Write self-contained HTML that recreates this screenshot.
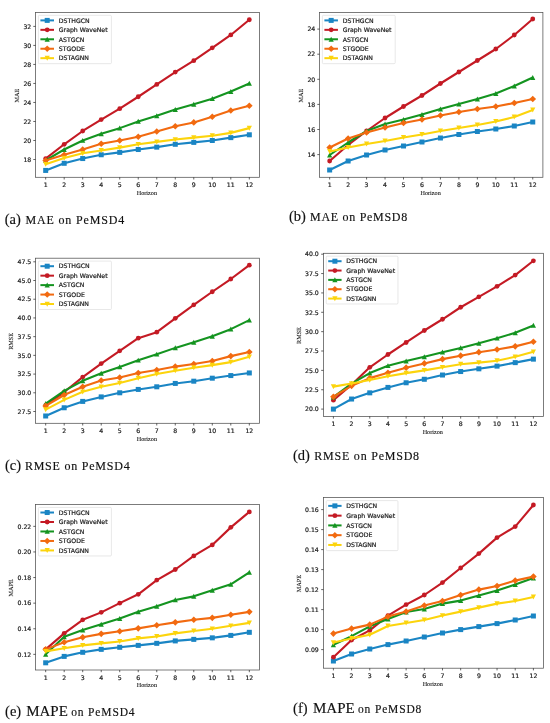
<!DOCTYPE html>
<html lang="en">
<head>
<meta charset="utf-8">
<title>Prediction error by horizon on PeMSD4 and PeMSD8</title>
<style>
html,body{margin:0;padding:0;background:#fff;}
body{width:550px;height:723px;overflow:hidden;}
svg{display:block;filter:blur(.35px);}
.ln{fill:none;stroke-width:2.1;stroke-linejoin:round;stroke-linecap:butt;}
.fr{fill:none;stroke:#505050;stroke-width:0.75;}
.tk{fill:none;stroke:#222;stroke-width:0.7;}
.tl,.lt{font-family:"DejaVu Sans","Liberation Sans",sans-serif;font-size:6.2px;fill:#1a1a1a;stroke:#1a1a1a;stroke-width:.2px;}
.al{text-rendering:geometricPrecision;font-family:"Liberation Serif",serif;font-size:6.2px;fill:#1a1a1a;stroke:#1a1a1a;stroke-width:.12px;}
.lg{fill:#fff;fill-opacity:.8;stroke:#d8d8d8;stroke-width:0.6;}
.cp{font-family:"Liberation Serif",serif;fill:#111;stroke:#111;stroke-width:.15px;}
.c1{font-size:14.5px;}
.c2{font-size:12px;}
.c3{font-size:11.5px;}
.c4{font-size:15px;}
</style>
</head>
<body>
<svg width="550" height="723" viewBox="0 0 550 723">
<rect width="550" height="723" fill="#fff"/>
<g class="chart" id="chart-a">
<polyline class="ln" stroke="#1a85c4" points="45.68,170.43 64.19,163.3 82.71,158.55 101.22,154.75 119.73,152.37 138.24,149.52 156.76,147.14 175.27,144.29 193.78,142.39 212.29,140.49 230.81,137.63 249.32,134.78"/>
<rect x="43.18" y="167.93" width="5" height="5" fill="#1a85c4"/>
<rect x="61.69" y="160.8" width="5" height="5" fill="#1a85c4"/>
<rect x="80.21" y="156.05" width="5" height="5" fill="#1a85c4"/>
<rect x="98.72" y="152.25" width="5" height="5" fill="#1a85c4"/>
<rect x="117.23" y="149.87" width="5" height="5" fill="#1a85c4"/>
<rect x="135.74" y="147.02" width="5" height="5" fill="#1a85c4"/>
<rect x="154.26" y="144.64" width="5" height="5" fill="#1a85c4"/>
<rect x="172.77" y="141.79" width="5" height="5" fill="#1a85c4"/>
<rect x="191.28" y="139.89" width="5" height="5" fill="#1a85c4"/>
<rect x="209.79" y="137.99" width="5" height="5" fill="#1a85c4"/>
<rect x="228.31" y="135.13" width="5" height="5" fill="#1a85c4"/>
<rect x="246.82" y="132.28" width="5" height="5" fill="#1a85c4"/>
<polyline class="ln" stroke="#c41a24" points="45.68,158.55 64.19,144.29 82.71,130.98 101.22,119.57 119.73,108.64 138.24,96.75 156.76,84.39 175.27,72.04 193.78,60.63 212.29,47.79 230.81,34.96 249.32,19.75"/>
<circle cx="45.68" cy="158.55" r="2.4" fill="#c41a24"/>
<circle cx="64.19" cy="144.29" r="2.4" fill="#c41a24"/>
<circle cx="82.71" cy="130.98" r="2.4" fill="#c41a24"/>
<circle cx="101.22" cy="119.57" r="2.4" fill="#c41a24"/>
<circle cx="119.73" cy="108.64" r="2.4" fill="#c41a24"/>
<circle cx="138.24" cy="96.75" r="2.4" fill="#c41a24"/>
<circle cx="156.76" cy="84.39" r="2.4" fill="#c41a24"/>
<circle cx="175.27" cy="72.04" r="2.4" fill="#c41a24"/>
<circle cx="193.78" cy="60.63" r="2.4" fill="#c41a24"/>
<circle cx="212.29" cy="47.79" r="2.4" fill="#c41a24"/>
<circle cx="230.81" cy="34.96" r="2.4" fill="#c41a24"/>
<circle cx="249.32" cy="19.75" r="2.4" fill="#c41a24"/>
<polyline class="ln" stroke="#149420" points="45.68,160.45 64.19,149.52 82.71,140.49 101.22,133.83 119.73,128.13 138.24,121.47 156.76,115.77 175.27,109.59 193.78,104.36 212.29,98.66 230.81,91.52 249.32,83.44"/>
<path d="M45.68 157.85L48.28 162.83H43.08Z" fill="#149420"/>
<path d="M64.19 146.92L66.79 151.89H61.59Z" fill="#149420"/>
<path d="M82.71 137.89L85.31 142.86H80.11Z" fill="#149420"/>
<path d="M101.22 131.23L103.82 136.21H98.62Z" fill="#149420"/>
<path d="M119.73 125.53L122.33 130.5H117.13Z" fill="#149420"/>
<path d="M138.24 118.87L140.84 123.85H135.64Z" fill="#149420"/>
<path d="M156.76 113.17L159.36 118.14H154.16Z" fill="#149420"/>
<path d="M175.27 106.99L177.87 111.96H172.67Z" fill="#149420"/>
<path d="M193.78 101.76L196.38 106.73H191.18Z" fill="#149420"/>
<path d="M212.29 96.06L214.89 101.03H209.69Z" fill="#149420"/>
<path d="M230.81 88.92L233.41 93.9H228.21Z" fill="#149420"/>
<path d="M249.32 80.84L251.92 85.82H246.72Z" fill="#149420"/>
<polyline class="ln" stroke="#f26a10" points="45.68,160.45 64.19,154.75 82.71,149.52 101.22,143.81 119.73,140.49 138.24,136.68 156.76,131.45 175.27,126.23 193.78,122.42 212.29,116.72 230.81,110.54 249.32,105.79"/>
<path d="M45.68 157.15L48.98 160.45L45.68 163.75L42.38 160.45Z" fill="#f26a10"/>
<path d="M64.19 151.45L67.49 154.75L64.19 158.05L60.89 154.75Z" fill="#f26a10"/>
<path d="M82.71 146.22L86.01 149.52L82.71 152.82L79.41 149.52Z" fill="#f26a10"/>
<path d="M101.22 140.51L104.52 143.81L101.22 147.11L97.92 143.81Z" fill="#f26a10"/>
<path d="M119.73 137.19L123.03 140.49L119.73 143.79L116.43 140.49Z" fill="#f26a10"/>
<path d="M138.24 133.38L141.54 136.68L138.24 139.98L134.94 136.68Z" fill="#f26a10"/>
<path d="M156.76 128.15L160.06 131.45L156.76 134.75L153.46 131.45Z" fill="#f26a10"/>
<path d="M175.27 122.93L178.57 126.23L175.27 129.53L171.97 126.23Z" fill="#f26a10"/>
<path d="M193.78 119.12L197.08 122.42L193.78 125.72L190.48 122.42Z" fill="#f26a10"/>
<path d="M212.29 113.42L215.59 116.72L212.29 120.02L208.99 116.72Z" fill="#f26a10"/>
<path d="M230.81 107.24L234.11 110.54L230.81 113.84L227.51 110.54Z" fill="#f26a10"/>
<path d="M249.32 102.49L252.62 105.79L249.32 109.09L246.02 105.79Z" fill="#f26a10"/>
<polyline class="ln" stroke="#fcd40c" points="45.68,164.25 64.19,158.07 82.71,153.32 101.22,150.47 119.73,147.62 138.24,144.29 156.76,141.91 175.27,139.54 193.78,137.63 212.29,135.73 230.81,132.88 249.32,128.13"/>
<path d="M45.68 166.85L48.28 161.88H43.08Z" fill="#fcd40c"/>
<path d="M64.19 160.67L66.79 155.7H61.59Z" fill="#fcd40c"/>
<path d="M82.71 155.92L85.31 150.95H80.11Z" fill="#fcd40c"/>
<path d="M101.22 153.07L103.82 148.09H98.62Z" fill="#fcd40c"/>
<path d="M119.73 150.22L122.33 145.24H117.13Z" fill="#fcd40c"/>
<path d="M138.24 146.89L140.84 141.91H135.64Z" fill="#fcd40c"/>
<path d="M156.76 144.51L159.36 139.54H154.16Z" fill="#fcd40c"/>
<path d="M175.27 142.14L177.87 137.16H172.67Z" fill="#fcd40c"/>
<path d="M193.78 140.23L196.38 135.26H191.18Z" fill="#fcd40c"/>
<path d="M212.29 138.33L214.89 133.36H209.69Z" fill="#fcd40c"/>
<path d="M230.81 135.48L233.41 130.51H228.21Z" fill="#fcd40c"/>
<path d="M249.32 130.73L251.92 125.75H246.72Z" fill="#fcd40c"/>
<rect class="fr" x="35.5" y="12.4" width="224" height="164.9"/>
<path class="tk" d="M45.68 177.3v2.2"/>
<text class="tl" x="45.68" y="187" text-anchor="middle">1</text>
<path class="tk" d="M64.19 177.3v2.2"/>
<text class="tl" x="64.19" y="187" text-anchor="middle">2</text>
<path class="tk" d="M82.71 177.3v2.2"/>
<text class="tl" x="82.71" y="187" text-anchor="middle">3</text>
<path class="tk" d="M101.22 177.3v2.2"/>
<text class="tl" x="101.22" y="187" text-anchor="middle">4</text>
<path class="tk" d="M119.73 177.3v2.2"/>
<text class="tl" x="119.73" y="187" text-anchor="middle">5</text>
<path class="tk" d="M138.24 177.3v2.2"/>
<text class="tl" x="138.24" y="187" text-anchor="middle">6</text>
<path class="tk" d="M156.76 177.3v2.2"/>
<text class="tl" x="156.76" y="187" text-anchor="middle">7</text>
<path class="tk" d="M175.27 177.3v2.2"/>
<text class="tl" x="175.27" y="187" text-anchor="middle">8</text>
<path class="tk" d="M193.78 177.3v2.2"/>
<text class="tl" x="193.78" y="187" text-anchor="middle">9</text>
<path class="tk" d="M212.29 177.3v2.2"/>
<text class="tl" x="212.29" y="187" text-anchor="middle">10</text>
<path class="tk" d="M230.81 177.3v2.2"/>
<text class="tl" x="230.81" y="187" text-anchor="middle">11</text>
<path class="tk" d="M249.32 177.3v2.2"/>
<text class="tl" x="249.32" y="187" text-anchor="middle">12</text>
<text class="al" x="146.9" y="194.59" text-anchor="middle">Horizon</text>
<path class="tk" d="M35.5 159.5h-2.2"/>
<text class="tl" x="31.3" y="161.75" text-anchor="end">18</text>
<path class="tk" d="M35.5 140.49h-2.2"/>
<text class="tl" x="31.3" y="142.74" text-anchor="end">20</text>
<path class="tk" d="M35.5 121.47h-2.2"/>
<text class="tl" x="31.3" y="123.72" text-anchor="end">22</text>
<path class="tk" d="M35.5 102.46h-2.2"/>
<text class="tl" x="31.3" y="104.71" text-anchor="end">24</text>
<path class="tk" d="M35.5 83.44h-2.2"/>
<text class="tl" x="31.3" y="85.69" text-anchor="end">26</text>
<path class="tk" d="M35.5 64.43h-2.2"/>
<text class="tl" x="31.3" y="66.68" text-anchor="end">28</text>
<path class="tk" d="M35.5 45.42h-2.2"/>
<text class="tl" x="31.3" y="47.67" text-anchor="end">30</text>
<path class="tk" d="M35.5 26.4h-2.2"/>
<text class="tl" x="31.3" y="28.65" text-anchor="end">32</text>
<text class="al" transform="translate(18.5 95.55) rotate(-90)" text-anchor="middle">MAE</text>
<rect class="lg" x="38.4" y="15.3" width="73" height="48.37" rx="1"/>
<path class="ln" style="stroke-width:2" stroke="#1a85c4" d="M40.4 20.4H54"/>
<rect x="44.7" y="17.9" width="5" height="5" fill="#1a85c4"/>
<text class="lt" x="58.8" y="22.65">DSTHGCN</text>
<path class="ln" style="stroke-width:2" stroke="#c41a24" d="M40.4 29.84H54"/>
<circle cx="47.2" cy="29.84" r="2.4" fill="#c41a24"/>
<text class="lt" x="58.8" y="32.09">Graph WaveNet</text>
<path class="ln" style="stroke-width:2" stroke="#149420" d="M40.4 39.28H54"/>
<path d="M47.2 36.68L49.8 41.66H44.6Z" fill="#149420"/>
<text class="lt" x="58.8" y="41.53">ASTGCN</text>
<path class="ln" style="stroke-width:2" stroke="#f26a10" d="M40.4 48.73H54"/>
<path d="M47.2 45.43L50.5 48.73L47.2 52.03L43.9 48.73Z" fill="#f26a10"/>
<text class="lt" x="58.8" y="50.98">STGODE</text>
<path class="ln" style="stroke-width:2" stroke="#fcd40c" d="M40.4 58.17H54"/>
<path d="M47.2 60.77L49.8 55.8H44.6Z" fill="#fcd40c"/>
<text class="lt" x="58.8" y="60.42">DSTAGNN</text>
<text class="cp c1" x="4.7" y="223.9">(a)</text>
<text class="cp c2" x="25.5" y="223.9" style="letter-spacing:0.83px">MAE on PeMSD4</text>
</g>
<g class="chart" id="chart-b">
<polyline class="ln" stroke="#1a85c4" points="329.65,170 348.12,161 366.58,155 385.04,150 403.51,146 421.97,142 440.43,138 458.89,134.5 477.36,131.5 495.82,129 514.28,126 532.75,122"/>
<rect x="327.15" y="167.5" width="5" height="5" fill="#1a85c4"/>
<rect x="345.62" y="158.5" width="5" height="5" fill="#1a85c4"/>
<rect x="364.08" y="152.5" width="5" height="5" fill="#1a85c4"/>
<rect x="382.54" y="147.5" width="5" height="5" fill="#1a85c4"/>
<rect x="401.01" y="143.5" width="5" height="5" fill="#1a85c4"/>
<rect x="419.47" y="139.5" width="5" height="5" fill="#1a85c4"/>
<rect x="437.93" y="135.5" width="5" height="5" fill="#1a85c4"/>
<rect x="456.39" y="132" width="5" height="5" fill="#1a85c4"/>
<rect x="474.86" y="129" width="5" height="5" fill="#1a85c4"/>
<rect x="493.32" y="126.5" width="5" height="5" fill="#1a85c4"/>
<rect x="511.78" y="123.5" width="5" height="5" fill="#1a85c4"/>
<rect x="530.25" y="119.5" width="5" height="5" fill="#1a85c4"/>
<polyline class="ln" stroke="#c41a24" points="329.65,161 348.12,145 366.58,131 385.04,118 403.51,106.5 421.97,95.5 440.43,83.5 458.89,72 477.36,60.5 495.82,49 514.28,35 532.75,19"/>
<circle cx="329.65" cy="161" r="2.4" fill="#c41a24"/>
<circle cx="348.12" cy="145" r="2.4" fill="#c41a24"/>
<circle cx="366.58" cy="131" r="2.4" fill="#c41a24"/>
<circle cx="385.04" cy="118" r="2.4" fill="#c41a24"/>
<circle cx="403.51" cy="106.5" r="2.4" fill="#c41a24"/>
<circle cx="421.97" cy="95.5" r="2.4" fill="#c41a24"/>
<circle cx="440.43" cy="83.5" r="2.4" fill="#c41a24"/>
<circle cx="458.89" cy="72" r="2.4" fill="#c41a24"/>
<circle cx="477.36" cy="60.5" r="2.4" fill="#c41a24"/>
<circle cx="495.82" cy="49" r="2.4" fill="#c41a24"/>
<circle cx="514.28" cy="35" r="2.4" fill="#c41a24"/>
<circle cx="532.75" cy="19" r="2.4" fill="#c41a24"/>
<polyline class="ln" stroke="#149420" points="329.65,155 348.12,142.5 366.58,131 385.04,124 403.51,119.5 421.97,114.5 440.43,109 458.89,104 477.36,99 495.82,93.5 514.28,86 532.75,77.5"/>
<path d="M329.65 152.4L332.25 157.38H327.05Z" fill="#149420"/>
<path d="M348.12 139.9L350.72 144.88H345.52Z" fill="#149420"/>
<path d="M366.58 128.4L369.18 133.38H363.98Z" fill="#149420"/>
<path d="M385.04 121.4L387.64 126.38H382.44Z" fill="#149420"/>
<path d="M403.51 116.9L406.11 121.88H400.91Z" fill="#149420"/>
<path d="M421.97 111.9L424.57 116.88H419.37Z" fill="#149420"/>
<path d="M440.43 106.4L443.03 111.38H437.83Z" fill="#149420"/>
<path d="M458.89 101.4L461.49 106.38H456.29Z" fill="#149420"/>
<path d="M477.36 96.4L479.96 101.38H474.76Z" fill="#149420"/>
<path d="M495.82 90.9L498.42 95.88H493.22Z" fill="#149420"/>
<path d="M514.28 83.4L516.88 88.38H511.68Z" fill="#149420"/>
<path d="M532.75 74.9L535.35 79.88H530.15Z" fill="#149420"/>
<polyline class="ln" stroke="#f26a10" points="329.65,147.5 348.12,138.5 366.58,132.5 385.04,127.5 403.51,123 421.97,119.5 440.43,115.5 458.89,112 477.36,109 495.82,106.5 514.28,103 532.75,99"/>
<path d="M329.65 144.2L332.95 147.5L329.65 150.8L326.35 147.5Z" fill="#f26a10"/>
<path d="M348.12 135.2L351.42 138.5L348.12 141.8L344.82 138.5Z" fill="#f26a10"/>
<path d="M366.58 129.2L369.88 132.5L366.58 135.8L363.28 132.5Z" fill="#f26a10"/>
<path d="M385.04 124.2L388.34 127.5L385.04 130.8L381.74 127.5Z" fill="#f26a10"/>
<path d="M403.51 119.7L406.81 123L403.51 126.3L400.21 123Z" fill="#f26a10"/>
<path d="M421.97 116.2L425.27 119.5L421.97 122.8L418.67 119.5Z" fill="#f26a10"/>
<path d="M440.43 112.2L443.73 115.5L440.43 118.8L437.13 115.5Z" fill="#f26a10"/>
<path d="M458.89 108.7L462.19 112L458.89 115.3L455.59 112Z" fill="#f26a10"/>
<path d="M477.36 105.7L480.66 109L477.36 112.3L474.06 109Z" fill="#f26a10"/>
<path d="M495.82 103.2L499.12 106.5L495.82 109.8L492.52 106.5Z" fill="#f26a10"/>
<path d="M514.28 99.7L517.58 103L514.28 106.3L510.98 103Z" fill="#f26a10"/>
<path d="M532.75 95.7L536.05 99L532.75 102.3L529.45 99Z" fill="#f26a10"/>
<polyline class="ln" stroke="#fcd40c" points="329.65,151.5 348.12,147.5 366.58,144 385.04,141 403.51,137.5 421.97,134.5 440.43,131 458.89,128 477.36,125 495.82,121.5 514.28,117 532.75,110"/>
<path d="M329.65 154.1L332.25 149.12H327.05Z" fill="#fcd40c"/>
<path d="M348.12 150.1L350.72 145.12H345.52Z" fill="#fcd40c"/>
<path d="M366.58 146.6L369.18 141.62H363.98Z" fill="#fcd40c"/>
<path d="M385.04 143.6L387.64 138.62H382.44Z" fill="#fcd40c"/>
<path d="M403.51 140.1L406.11 135.12H400.91Z" fill="#fcd40c"/>
<path d="M421.97 137.1L424.57 132.12H419.37Z" fill="#fcd40c"/>
<path d="M440.43 133.6L443.03 128.62H437.83Z" fill="#fcd40c"/>
<path d="M458.89 130.6L461.49 125.62H456.29Z" fill="#fcd40c"/>
<path d="M477.36 127.6L479.96 122.62H474.76Z" fill="#fcd40c"/>
<path d="M495.82 124.1L498.42 119.12H493.22Z" fill="#fcd40c"/>
<path d="M514.28 119.6L516.88 114.62H511.68Z" fill="#fcd40c"/>
<path d="M532.75 112.6L535.35 107.62H530.15Z" fill="#fcd40c"/>
<rect class="fr" x="319.5" y="12.4" width="223.4" height="164.9"/>
<path class="tk" d="M329.65 177.3v2.2"/>
<text class="tl" x="329.65" y="187" text-anchor="middle">1</text>
<path class="tk" d="M348.12 177.3v2.2"/>
<text class="tl" x="348.12" y="187" text-anchor="middle">2</text>
<path class="tk" d="M366.58 177.3v2.2"/>
<text class="tl" x="366.58" y="187" text-anchor="middle">3</text>
<path class="tk" d="M385.04 177.3v2.2"/>
<text class="tl" x="385.04" y="187" text-anchor="middle">4</text>
<path class="tk" d="M403.51 177.3v2.2"/>
<text class="tl" x="403.51" y="187" text-anchor="middle">5</text>
<path class="tk" d="M421.97 177.3v2.2"/>
<text class="tl" x="421.97" y="187" text-anchor="middle">6</text>
<path class="tk" d="M440.43 177.3v2.2"/>
<text class="tl" x="440.43" y="187" text-anchor="middle">7</text>
<path class="tk" d="M458.89 177.3v2.2"/>
<text class="tl" x="458.89" y="187" text-anchor="middle">8</text>
<path class="tk" d="M477.36 177.3v2.2"/>
<text class="tl" x="477.36" y="187" text-anchor="middle">9</text>
<path class="tk" d="M495.82 177.3v2.2"/>
<text class="tl" x="495.82" y="187" text-anchor="middle">10</text>
<path class="tk" d="M514.28 177.3v2.2"/>
<text class="tl" x="514.28" y="187" text-anchor="middle">11</text>
<path class="tk" d="M532.75 177.3v2.2"/>
<text class="tl" x="532.75" y="187" text-anchor="middle">12</text>
<text class="al" x="430.6" y="194.59" text-anchor="middle">Horizon</text>
<path class="tk" d="M319.5 154.6h-2.2"/>
<text class="tl" x="315.3" y="156.85" text-anchor="end">14</text>
<path class="tk" d="M319.5 129.5h-2.2"/>
<text class="tl" x="315.3" y="131.75" text-anchor="end">16</text>
<path class="tk" d="M319.5 104.4h-2.2"/>
<text class="tl" x="315.3" y="106.65" text-anchor="end">18</text>
<path class="tk" d="M319.5 79.3h-2.2"/>
<text class="tl" x="315.3" y="81.55" text-anchor="end">20</text>
<path class="tk" d="M319.5 54.2h-2.2"/>
<text class="tl" x="315.3" y="56.45" text-anchor="end">22</text>
<path class="tk" d="M319.5 29.1h-2.2"/>
<text class="tl" x="315.3" y="31.35" text-anchor="end">24</text>
<text class="al" transform="translate(302.5 95.55) rotate(-90)" text-anchor="middle">MAE</text>
<rect class="lg" x="322.39" y="15.3" width="72.8" height="48.37" rx="1"/>
<path class="ln" style="stroke-width:2" stroke="#1a85c4" d="M324.39 20.4H337.95"/>
<rect x="328.67" y="17.9" width="5" height="5" fill="#1a85c4"/>
<text class="lt" x="342.74" y="22.65">DSTHGCN</text>
<path class="ln" style="stroke-width:2" stroke="#c41a24" d="M324.39 29.84H337.95"/>
<circle cx="331.17" cy="29.84" r="2.4" fill="#c41a24"/>
<text class="lt" x="342.74" y="32.09">Graph WaveNet</text>
<path class="ln" style="stroke-width:2" stroke="#149420" d="M324.39 39.28H337.95"/>
<path d="M331.17 36.68L333.77 41.66H328.57Z" fill="#149420"/>
<text class="lt" x="342.74" y="41.53">ASTGCN</text>
<path class="ln" style="stroke-width:2" stroke="#f26a10" d="M324.39 48.73H337.95"/>
<path d="M331.17 45.43L334.47 48.73L331.17 52.03L327.87 48.73Z" fill="#f26a10"/>
<text class="lt" x="342.74" y="50.98">STGODE</text>
<path class="ln" style="stroke-width:2" stroke="#fcd40c" d="M324.39 58.17H337.95"/>
<path d="M331.17 60.77L333.77 55.8H328.57Z" fill="#fcd40c"/>
<text class="lt" x="342.74" y="60.42">DSTAGNN</text>
<text class="cp c1" x="288.9" y="220.5">(b)</text>
<text class="cp c2" x="310" y="220.5" style="letter-spacing:0.71px">MAE on PeMSD8</text>
</g>
<g class="chart" id="chart-c">
<polyline class="ln" stroke="#1a85c4" points="45.68,415.99 64.19,407.76 82.71,401.4 101.22,396.9 119.73,392.79 138.24,389.42 156.76,386.8 175.27,383.43 193.78,381.19 212.29,378.19 230.81,375.57 249.32,372.95"/>
<rect x="43.18" y="413.49" width="5" height="5" fill="#1a85c4"/>
<rect x="61.69" y="405.26" width="5" height="5" fill="#1a85c4"/>
<rect x="80.21" y="398.9" width="5" height="5" fill="#1a85c4"/>
<rect x="98.72" y="394.4" width="5" height="5" fill="#1a85c4"/>
<rect x="117.23" y="390.29" width="5" height="5" fill="#1a85c4"/>
<rect x="135.74" y="386.92" width="5" height="5" fill="#1a85c4"/>
<rect x="154.26" y="384.3" width="5" height="5" fill="#1a85c4"/>
<rect x="172.77" y="380.93" width="5" height="5" fill="#1a85c4"/>
<rect x="191.28" y="378.69" width="5" height="5" fill="#1a85c4"/>
<rect x="209.79" y="375.69" width="5" height="5" fill="#1a85c4"/>
<rect x="228.31" y="373.07" width="5" height="5" fill="#1a85c4"/>
<rect x="246.82" y="370.45" width="5" height="5" fill="#1a85c4"/>
<polyline class="ln" stroke="#c41a24" points="45.68,405.51 64.19,392.04 82.71,377.07 101.22,363.6 119.73,350.87 138.24,338.15 156.76,332.16 175.27,318.31 193.78,304.84 212.29,291.74 230.81,279.02 249.32,265.17"/>
<circle cx="45.68" cy="405.51" r="2.4" fill="#c41a24"/>
<circle cx="64.19" cy="392.04" r="2.4" fill="#c41a24"/>
<circle cx="82.71" cy="377.07" r="2.4" fill="#c41a24"/>
<circle cx="101.22" cy="363.6" r="2.4" fill="#c41a24"/>
<circle cx="119.73" cy="350.87" r="2.4" fill="#c41a24"/>
<circle cx="138.24" cy="338.15" r="2.4" fill="#c41a24"/>
<circle cx="156.76" cy="332.16" r="2.4" fill="#c41a24"/>
<circle cx="175.27" cy="318.31" r="2.4" fill="#c41a24"/>
<circle cx="193.78" cy="304.84" r="2.4" fill="#c41a24"/>
<circle cx="212.29" cy="291.74" r="2.4" fill="#c41a24"/>
<circle cx="230.81" cy="279.02" r="2.4" fill="#c41a24"/>
<circle cx="249.32" cy="265.17" r="2.4" fill="#c41a24"/>
<polyline class="ln" stroke="#149420" points="45.68,403.64 64.19,390.92 82.71,380.81 101.22,373.33 119.73,366.96 138.24,360.23 156.76,354.24 175.27,347.88 193.78,342.26 212.29,336.28 230.81,329.17 249.32,320.18"/>
<path d="M45.68 401.04L48.28 406.02H43.08Z" fill="#149420"/>
<path d="M64.19 388.32L66.79 393.29H61.59Z" fill="#149420"/>
<path d="M82.71 378.21L85.31 383.19H80.11Z" fill="#149420"/>
<path d="M101.22 370.73L103.82 375.7H98.62Z" fill="#149420"/>
<path d="M119.73 364.36L122.33 369.34H117.13Z" fill="#149420"/>
<path d="M138.24 357.63L140.84 362.6H135.64Z" fill="#149420"/>
<path d="M156.76 351.64L159.36 356.61H154.16Z" fill="#149420"/>
<path d="M175.27 345.28L177.87 350.25H172.67Z" fill="#149420"/>
<path d="M193.78 339.66L196.38 344.64H191.18Z" fill="#149420"/>
<path d="M212.29 333.68L214.89 338.65H209.69Z" fill="#149420"/>
<path d="M230.81 326.56L233.41 331.54H228.21Z" fill="#149420"/>
<path d="M249.32 317.58L251.92 322.56H246.72Z" fill="#149420"/>
<polyline class="ln" stroke="#f26a10" points="45.68,405.89 64.19,395.03 82.71,386.8 101.22,380.44 119.73,377.44 138.24,372.95 156.76,369.96 175.27,366.59 193.78,363.97 212.29,360.98 230.81,356.11 249.32,351.99"/>
<path d="M45.68 402.59L48.98 405.89L45.68 409.19L42.38 405.89Z" fill="#f26a10"/>
<path d="M64.19 391.73L67.49 395.03L64.19 398.33L60.89 395.03Z" fill="#f26a10"/>
<path d="M82.71 383.5L86.01 386.8L82.71 390.1L79.41 386.8Z" fill="#f26a10"/>
<path d="M101.22 377.14L104.52 380.44L101.22 383.74L97.92 380.44Z" fill="#f26a10"/>
<path d="M119.73 374.14L123.03 377.44L119.73 380.74L116.43 377.44Z" fill="#f26a10"/>
<path d="M138.24 369.65L141.54 372.95L138.24 376.25L134.94 372.95Z" fill="#f26a10"/>
<path d="M156.76 366.66L160.06 369.96L156.76 373.26L153.46 369.96Z" fill="#f26a10"/>
<path d="M175.27 363.29L178.57 366.59L175.27 369.89L171.97 366.59Z" fill="#f26a10"/>
<path d="M193.78 360.67L197.08 363.97L193.78 367.27L190.48 363.97Z" fill="#f26a10"/>
<path d="M212.29 357.68L215.59 360.98L212.29 364.28L208.99 360.98Z" fill="#f26a10"/>
<path d="M230.81 352.81L234.11 356.11L230.81 359.41L227.51 356.11Z" fill="#f26a10"/>
<path d="M249.32 348.69L252.62 351.99L249.32 355.29L246.02 351.99Z" fill="#f26a10"/>
<polyline class="ln" stroke="#fcd40c" points="45.68,409.63 64.19,399.9 82.71,391.81 101.22,386.8 119.73,383.06 138.24,378.19 156.76,374.08 175.27,370.71 193.78,367.71 212.29,365.09 230.81,362.1 249.32,356.86"/>
<path d="M45.68 412.23L48.28 407.25H43.08Z" fill="#fcd40c"/>
<path d="M64.19 402.5L66.79 397.52H61.59Z" fill="#fcd40c"/>
<path d="M82.71 394.41L85.31 389.44H80.11Z" fill="#fcd40c"/>
<path d="M101.22 389.4L103.82 384.42H98.62Z" fill="#fcd40c"/>
<path d="M119.73 385.66L122.33 380.68H117.13Z" fill="#fcd40c"/>
<path d="M138.24 380.79L140.84 375.82H135.64Z" fill="#fcd40c"/>
<path d="M156.76 376.68L159.36 371.7H154.16Z" fill="#fcd40c"/>
<path d="M175.27 373.31L177.87 368.33H172.67Z" fill="#fcd40c"/>
<path d="M193.78 370.31L196.38 365.34H191.18Z" fill="#fcd40c"/>
<path d="M212.29 367.69L214.89 362.72H209.69Z" fill="#fcd40c"/>
<path d="M230.81 364.7L233.41 359.72H228.21Z" fill="#fcd40c"/>
<path d="M249.32 359.46L251.92 354.48H246.72Z" fill="#fcd40c"/>
<rect class="fr" x="35.5" y="258.2" width="224" height="165.1"/>
<path class="tk" d="M45.68 423.3v2.2"/>
<text class="tl" x="45.68" y="433" text-anchor="middle">1</text>
<path class="tk" d="M64.19 423.3v2.2"/>
<text class="tl" x="64.19" y="433" text-anchor="middle">2</text>
<path class="tk" d="M82.71 423.3v2.2"/>
<text class="tl" x="82.71" y="433" text-anchor="middle">3</text>
<path class="tk" d="M101.22 423.3v2.2"/>
<text class="tl" x="101.22" y="433" text-anchor="middle">4</text>
<path class="tk" d="M119.73 423.3v2.2"/>
<text class="tl" x="119.73" y="433" text-anchor="middle">5</text>
<path class="tk" d="M138.24 423.3v2.2"/>
<text class="tl" x="138.24" y="433" text-anchor="middle">6</text>
<path class="tk" d="M156.76 423.3v2.2"/>
<text class="tl" x="156.76" y="433" text-anchor="middle">7</text>
<path class="tk" d="M175.27 423.3v2.2"/>
<text class="tl" x="175.27" y="433" text-anchor="middle">8</text>
<path class="tk" d="M193.78 423.3v2.2"/>
<text class="tl" x="193.78" y="433" text-anchor="middle">9</text>
<path class="tk" d="M212.29 423.3v2.2"/>
<text class="tl" x="212.29" y="433" text-anchor="middle">10</text>
<path class="tk" d="M230.81 423.3v2.2"/>
<text class="tl" x="230.81" y="433" text-anchor="middle">11</text>
<path class="tk" d="M249.32 423.3v2.2"/>
<text class="tl" x="249.32" y="433" text-anchor="middle">12</text>
<text class="al" x="146.9" y="440.61" text-anchor="middle">Horizon</text>
<path class="tk" d="M35.5 411.5h-2.2"/>
<text class="tl" x="31.3" y="413.75" text-anchor="end">27.5</text>
<path class="tk" d="M35.5 392.79h-2.2"/>
<text class="tl" x="31.3" y="395.04" text-anchor="end">30.0</text>
<path class="tk" d="M35.5 374.08h-2.2"/>
<text class="tl" x="31.3" y="376.33" text-anchor="end">32.5</text>
<path class="tk" d="M35.5 355.36h-2.2"/>
<text class="tl" x="31.3" y="357.61" text-anchor="end">35.0</text>
<path class="tk" d="M35.5 336.65h-2.2"/>
<text class="tl" x="31.3" y="338.9" text-anchor="end">37.5</text>
<path class="tk" d="M35.5 317.94h-2.2"/>
<text class="tl" x="31.3" y="320.19" text-anchor="end">40.0</text>
<path class="tk" d="M35.5 299.23h-2.2"/>
<text class="tl" x="31.3" y="301.48" text-anchor="end">42.5</text>
<path class="tk" d="M35.5 280.51h-2.2"/>
<text class="tl" x="31.3" y="282.76" text-anchor="end">45.0</text>
<path class="tk" d="M35.5 261.8h-2.2"/>
<text class="tl" x="31.3" y="264.05" text-anchor="end">47.5</text>
<text class="al" transform="translate(12.9 341.45) rotate(-90)" text-anchor="middle">RMSE</text>
<rect class="lg" x="38.4" y="261.1" width="73" height="48.43" rx="1"/>
<path class="ln" style="stroke-width:2" stroke="#1a85c4" d="M40.4 266.2H54"/>
<rect x="44.7" y="263.7" width="5" height="5" fill="#1a85c4"/>
<text class="lt" x="58.8" y="268.45">DSTHGCN</text>
<path class="ln" style="stroke-width:2" stroke="#c41a24" d="M40.4 275.66H54"/>
<circle cx="47.2" cy="275.66" r="2.4" fill="#c41a24"/>
<text class="lt" x="58.8" y="277.91">Graph WaveNet</text>
<path class="ln" style="stroke-width:2" stroke="#149420" d="M40.4 285.12H54"/>
<path d="M47.2 282.52L49.8 287.49H44.6Z" fill="#149420"/>
<text class="lt" x="58.8" y="287.37">ASTGCN</text>
<path class="ln" style="stroke-width:2" stroke="#f26a10" d="M40.4 294.57H54"/>
<path d="M47.2 291.27L50.5 294.57L47.2 297.87L43.9 294.57Z" fill="#f26a10"/>
<text class="lt" x="58.8" y="296.82">STGODE</text>
<path class="ln" style="stroke-width:2" stroke="#fcd40c" d="M40.4 304.03H54"/>
<path d="M47.2 306.63L49.8 301.65H44.6Z" fill="#fcd40c"/>
<text class="lt" x="58.8" y="306.28">DSTAGNN</text>
<text class="cp c1" x="5" y="470">(c)</text>
<text class="cp c2" x="24.9" y="470" style="letter-spacing:0.78px">RMSE on PeMSD4</text>
</g>
<g class="chart" id="chart-d">
<polyline class="ln" stroke="#1a85c4" points="333.4,409.1 351.58,399.03 369.76,392.84 387.95,387.41 406.13,382.77 424.31,379.28 442.49,375.02 460.67,371.54 478.85,368.83 497.04,366.12 515.22,362.63 533.4,359.14"/>
<rect x="330.9" y="406.6" width="5" height="5" fill="#1a85c4"/>
<rect x="349.08" y="396.53" width="5" height="5" fill="#1a85c4"/>
<rect x="367.26" y="390.34" width="5" height="5" fill="#1a85c4"/>
<rect x="385.45" y="384.91" width="5" height="5" fill="#1a85c4"/>
<rect x="403.63" y="380.27" width="5" height="5" fill="#1a85c4"/>
<rect x="421.81" y="376.78" width="5" height="5" fill="#1a85c4"/>
<rect x="439.99" y="372.52" width="5" height="5" fill="#1a85c4"/>
<rect x="458.17" y="369.04" width="5" height="5" fill="#1a85c4"/>
<rect x="476.35" y="366.33" width="5" height="5" fill="#1a85c4"/>
<rect x="494.54" y="363.62" width="5" height="5" fill="#1a85c4"/>
<rect x="512.72" y="360.13" width="5" height="5" fill="#1a85c4"/>
<rect x="530.9" y="356.64" width="5" height="5" fill="#1a85c4"/>
<polyline class="ln" stroke="#c41a24" points="333.4,400.19 351.58,384.7 369.76,367.28 387.95,354.5 406.13,342.49 424.31,330.49 442.49,319.26 460.67,307.25 478.85,296.8 497.04,286.34 515.22,275.11 533.4,260.78"/>
<circle cx="333.4" cy="400.19" r="2.4" fill="#c41a24"/>
<circle cx="351.58" cy="384.7" r="2.4" fill="#c41a24"/>
<circle cx="369.76" cy="367.28" r="2.4" fill="#c41a24"/>
<circle cx="387.95" cy="354.5" r="2.4" fill="#c41a24"/>
<circle cx="406.13" cy="342.49" r="2.4" fill="#c41a24"/>
<circle cx="424.31" cy="330.49" r="2.4" fill="#c41a24"/>
<circle cx="442.49" cy="319.26" r="2.4" fill="#c41a24"/>
<circle cx="460.67" cy="307.25" r="2.4" fill="#c41a24"/>
<circle cx="478.85" cy="296.8" r="2.4" fill="#c41a24"/>
<circle cx="497.04" cy="286.34" r="2.4" fill="#c41a24"/>
<circle cx="515.22" cy="275.11" r="2.4" fill="#c41a24"/>
<circle cx="533.4" cy="260.78" r="2.4" fill="#c41a24"/>
<polyline class="ln" stroke="#149420" points="333.4,397.1 351.58,383.54 369.76,373.09 387.95,365.73 406.13,361.08 424.31,356.82 442.49,352.17 460.67,347.91 478.85,343.27 497.04,338.23 515.22,332.81 533.4,325.45"/>
<path d="M333.4 394.5L336 399.47H330.8Z" fill="#149420"/>
<path d="M351.58 380.94L354.18 385.92H348.98Z" fill="#149420"/>
<path d="M369.76 370.49L372.36 375.46H367.16Z" fill="#149420"/>
<path d="M387.95 363.13L390.55 368.1H385.35Z" fill="#149420"/>
<path d="M406.13 358.48L408.73 363.46H403.53Z" fill="#149420"/>
<path d="M424.31 354.22L426.91 359.2H421.71Z" fill="#149420"/>
<path d="M442.49 349.57L445.09 354.55H439.89Z" fill="#149420"/>
<path d="M460.67 345.31L463.27 350.29H458.07Z" fill="#149420"/>
<path d="M478.85 340.67L481.45 345.64H476.25Z" fill="#149420"/>
<path d="M497.04 335.63L499.64 340.61H494.44Z" fill="#149420"/>
<path d="M515.22 330.21L517.82 335.19H512.62Z" fill="#149420"/>
<path d="M533.4 322.85L536 327.83H530.8Z" fill="#149420"/>
<polyline class="ln" stroke="#f26a10" points="333.4,396.71 351.58,385.87 369.76,378.12 387.95,372.7 406.13,367.66 424.31,363.4 442.49,359.14 460.67,355.66 478.85,352.17 497.04,349.46 515.22,346.37 533.4,341.72"/>
<path d="M333.4 393.41L336.7 396.71L333.4 400.01L330.1 396.71Z" fill="#f26a10"/>
<path d="M351.58 382.56L354.88 385.87L351.58 389.17L348.28 385.87Z" fill="#f26a10"/>
<path d="M369.76 374.82L373.06 378.12L369.76 381.42L366.46 378.12Z" fill="#f26a10"/>
<path d="M387.95 369.4L391.25 372.7L387.95 376L384.65 372.7Z" fill="#f26a10"/>
<path d="M406.13 364.36L409.43 367.66L406.13 370.96L402.83 367.66Z" fill="#f26a10"/>
<path d="M424.31 360.1L427.61 363.4L424.31 366.7L421.01 363.4Z" fill="#f26a10"/>
<path d="M442.49 355.84L445.79 359.14L442.49 362.44L439.19 359.14Z" fill="#f26a10"/>
<path d="M460.67 352.36L463.97 355.66L460.67 358.96L457.37 355.66Z" fill="#f26a10"/>
<path d="M478.85 348.87L482.15 352.17L478.85 355.47L475.55 352.17Z" fill="#f26a10"/>
<path d="M497.04 346.16L500.34 349.46L497.04 352.76L493.74 349.46Z" fill="#f26a10"/>
<path d="M515.22 343.07L518.52 346.37L515.22 349.67L511.92 346.37Z" fill="#f26a10"/>
<path d="M533.4 338.42L536.7 341.72L533.4 345.02L530.1 341.72Z" fill="#f26a10"/>
<polyline class="ln" stroke="#fcd40c" points="333.4,386.64 351.58,383.54 369.76,380.06 387.95,376.18 406.13,373.09 424.31,370.38 442.49,367.28 460.67,364.18 478.85,362.63 497.04,360.69 515.22,356.82 533.4,351.79"/>
<path d="M333.4 389.24L336 384.26H330.8Z" fill="#fcd40c"/>
<path d="M351.58 386.14L354.18 381.17H348.98Z" fill="#fcd40c"/>
<path d="M369.76 382.66L372.36 377.68H367.16Z" fill="#fcd40c"/>
<path d="M387.95 378.78L390.55 373.81H385.35Z" fill="#fcd40c"/>
<path d="M406.13 375.69L408.73 370.71H403.53Z" fill="#fcd40c"/>
<path d="M424.31 372.98L426.91 368H421.71Z" fill="#fcd40c"/>
<path d="M442.49 369.88L445.09 364.9H439.89Z" fill="#fcd40c"/>
<path d="M460.67 366.78L463.27 361.8H458.07Z" fill="#fcd40c"/>
<path d="M478.85 365.23L481.45 360.25H476.25Z" fill="#fcd40c"/>
<path d="M497.04 363.29L499.64 358.32H494.44Z" fill="#fcd40c"/>
<path d="M515.22 359.42L517.82 354.45H512.62Z" fill="#fcd40c"/>
<path d="M533.4 354.39L536 349.41H530.8Z" fill="#fcd40c"/>
<rect class="fr" x="323.4" y="253.3" width="220" height="163.1"/>
<path class="tk" d="M333.4 416.4v2.2"/>
<text class="tl" x="333.4" y="426.05" text-anchor="middle">1</text>
<path class="tk" d="M351.58 416.4v2.2"/>
<text class="tl" x="351.58" y="426.05" text-anchor="middle">2</text>
<path class="tk" d="M369.76 416.4v2.2"/>
<text class="tl" x="369.76" y="426.05" text-anchor="middle">3</text>
<path class="tk" d="M387.95 416.4v2.2"/>
<text class="tl" x="387.95" y="426.05" text-anchor="middle">4</text>
<path class="tk" d="M406.13 416.4v2.2"/>
<text class="tl" x="406.13" y="426.05" text-anchor="middle">5</text>
<path class="tk" d="M424.31 416.4v2.2"/>
<text class="tl" x="424.31" y="426.05" text-anchor="middle">6</text>
<path class="tk" d="M442.49 416.4v2.2"/>
<text class="tl" x="442.49" y="426.05" text-anchor="middle">7</text>
<path class="tk" d="M460.67 416.4v2.2"/>
<text class="tl" x="460.67" y="426.05" text-anchor="middle">8</text>
<path class="tk" d="M478.85 416.4v2.2"/>
<text class="tl" x="478.85" y="426.05" text-anchor="middle">9</text>
<path class="tk" d="M497.04 416.4v2.2"/>
<text class="tl" x="497.04" y="426.05" text-anchor="middle">10</text>
<path class="tk" d="M515.22 416.4v2.2"/>
<text class="tl" x="515.22" y="426.05" text-anchor="middle">11</text>
<path class="tk" d="M533.4 416.4v2.2"/>
<text class="tl" x="533.4" y="426.05" text-anchor="middle">12</text>
<text class="al" x="432.8" y="433.5" text-anchor="middle">Horizon</text>
<path class="tk" d="M323.4 409.1h-2.2"/>
<text class="tl" x="318.8" y="411.35" text-anchor="end">20.0</text>
<path class="tk" d="M323.4 389.74h-2.2"/>
<text class="tl" x="318.8" y="391.99" text-anchor="end">22.5</text>
<path class="tk" d="M323.4 370.38h-2.2"/>
<text class="tl" x="318.8" y="372.62" text-anchor="end">25.0</text>
<path class="tk" d="M323.4 351.01h-2.2"/>
<text class="tl" x="318.8" y="353.26" text-anchor="end">27.5</text>
<path class="tk" d="M323.4 331.65h-2.2"/>
<text class="tl" x="318.8" y="333.9" text-anchor="end">30.0</text>
<path class="tk" d="M323.4 312.29h-2.2"/>
<text class="tl" x="318.8" y="314.54" text-anchor="end">32.5</text>
<path class="tk" d="M323.4 292.93h-2.2"/>
<text class="tl" x="318.8" y="295.18" text-anchor="end">35.0</text>
<path class="tk" d="M323.4 273.56h-2.2"/>
<text class="tl" x="318.8" y="275.81" text-anchor="end">37.5</text>
<path class="tk" d="M323.4 254.2h-2.2"/>
<text class="tl" x="318.8" y="256.45" text-anchor="end">40.0</text>
<text class="al" transform="translate(300.8 335.55) rotate(-90)" text-anchor="middle">RMSE</text>
<rect class="lg" x="326.25" y="256.17" width="71.7" height="47.84" rx="1"/>
<path class="ln" style="stroke-width:2" stroke="#1a85c4" d="M328.21 261.21H341.57"/>
<rect x="332.39" y="258.71" width="5" height="5" fill="#1a85c4"/>
<text class="lt" x="346.28" y="263.46">DSTHGCN</text>
<path class="ln" style="stroke-width:2" stroke="#c41a24" d="M328.21 270.55H341.57"/>
<circle cx="334.89" cy="270.55" r="2.4" fill="#c41a24"/>
<text class="lt" x="346.28" y="272.8">Graph WaveNet</text>
<path class="ln" style="stroke-width:2" stroke="#149420" d="M328.21 279.89H341.57"/>
<path d="M334.89 277.29L337.49 282.27H332.29Z" fill="#149420"/>
<text class="lt" x="346.28" y="282.14">ASTGCN</text>
<path class="ln" style="stroke-width:2" stroke="#f26a10" d="M328.21 289.23H341.57"/>
<path d="M334.89 285.93L338.19 289.23L334.89 292.53L331.59 289.23Z" fill="#f26a10"/>
<text class="lt" x="346.28" y="291.48">STGODE</text>
<path class="ln" style="stroke-width:2" stroke="#fcd40c" d="M328.21 298.57H341.57"/>
<path d="M334.89 301.17L337.49 296.2H332.29Z" fill="#fcd40c"/>
<text class="lt" x="346.28" y="300.82">DSTAGNN</text>
<text class="cp c1" x="293" y="459.9">(d)</text>
<text class="cp c2" x="314.3" y="459.9" style="letter-spacing:0.78px">RMSE on PeMSD8</text>
</g>
<g class="chart" id="chart-e">
<polyline class="ln" stroke="#1a85c4" points="45.68,662.8 64.19,656.4 82.71,652.3 101.22,649.36 119.73,647.31 138.24,645.39 156.76,643.34 175.27,640.91 193.78,639.37 212.29,637.84 230.81,635.41 249.32,632.33"/>
<rect x="43.18" y="660.3" width="5" height="5" fill="#1a85c4"/>
<rect x="61.69" y="653.9" width="5" height="5" fill="#1a85c4"/>
<rect x="80.21" y="649.8" width="5" height="5" fill="#1a85c4"/>
<rect x="98.72" y="646.86" width="5" height="5" fill="#1a85c4"/>
<rect x="117.23" y="644.81" width="5" height="5" fill="#1a85c4"/>
<rect x="135.74" y="642.89" width="5" height="5" fill="#1a85c4"/>
<rect x="154.26" y="640.84" width="5" height="5" fill="#1a85c4"/>
<rect x="172.77" y="638.41" width="5" height="5" fill="#1a85c4"/>
<rect x="191.28" y="636.87" width="5" height="5" fill="#1a85c4"/>
<rect x="209.79" y="635.34" width="5" height="5" fill="#1a85c4"/>
<rect x="228.31" y="632.91" width="5" height="5" fill="#1a85c4"/>
<rect x="246.82" y="629.83" width="5" height="5" fill="#1a85c4"/>
<polyline class="ln" stroke="#c41a24" points="45.68,649.36 64.19,633.36 82.71,619.79 101.22,612.37 119.73,603.15 138.24,594.32 156.76,580.11 175.27,569.49 193.78,555.92 212.29,544.91 230.81,527.37 249.32,511.89"/>
<circle cx="45.68" cy="649.36" r="2.4" fill="#c41a24"/>
<circle cx="64.19" cy="633.36" r="2.4" fill="#c41a24"/>
<circle cx="82.71" cy="619.79" r="2.4" fill="#c41a24"/>
<circle cx="101.22" cy="612.37" r="2.4" fill="#c41a24"/>
<circle cx="119.73" cy="603.15" r="2.4" fill="#c41a24"/>
<circle cx="138.24" cy="594.32" r="2.4" fill="#c41a24"/>
<circle cx="156.76" cy="580.11" r="2.4" fill="#c41a24"/>
<circle cx="175.27" cy="569.49" r="2.4" fill="#c41a24"/>
<circle cx="193.78" cy="555.92" r="2.4" fill="#c41a24"/>
<circle cx="212.29" cy="544.91" r="2.4" fill="#c41a24"/>
<circle cx="230.81" cy="527.37" r="2.4" fill="#c41a24"/>
<circle cx="249.32" cy="511.89" r="2.4" fill="#c41a24"/>
<polyline class="ln" stroke="#149420" points="45.68,654.35 64.19,636.81 82.71,630.03 101.22,624.27 119.73,618.51 138.24,611.85 156.76,606.35 175.27,599.95 193.78,596.37 212.29,590.35 230.81,584.33 249.32,572.43"/>
<path d="M45.68 651.75L48.28 656.73H43.08Z" fill="#149420"/>
<path d="M64.19 634.21L66.79 639.19H61.59Z" fill="#149420"/>
<path d="M82.71 627.43L85.31 632.4H80.11Z" fill="#149420"/>
<path d="M101.22 621.67L103.82 626.64H98.62Z" fill="#149420"/>
<path d="M119.73 615.91L122.33 620.88H117.13Z" fill="#149420"/>
<path d="M138.24 609.25L140.84 614.23H135.64Z" fill="#149420"/>
<path d="M156.76 603.75L159.36 608.73H154.16Z" fill="#149420"/>
<path d="M175.27 597.35L177.87 602.33H172.67Z" fill="#149420"/>
<path d="M193.78 593.77L196.38 598.74H191.18Z" fill="#149420"/>
<path d="M212.29 587.75L214.89 592.73H209.69Z" fill="#149420"/>
<path d="M230.81 581.73L233.41 586.71H228.21Z" fill="#149420"/>
<path d="M249.32 569.83L251.92 574.81H246.72Z" fill="#149420"/>
<polyline class="ln" stroke="#f26a10" points="45.68,649.36 64.19,642.32 82.71,637.33 101.22,633.87 119.73,631.31 138.24,628.37 156.76,625.29 175.27,622.35 193.78,619.79 212.29,617.87 230.81,614.8 249.32,611.85"/>
<path d="M45.68 646.06L48.98 649.36L45.68 652.66L42.38 649.36Z" fill="#f26a10"/>
<path d="M64.19 639.02L67.49 642.32L64.19 645.62L60.89 642.32Z" fill="#f26a10"/>
<path d="M82.71 634.03L86.01 637.33L82.71 640.63L79.41 637.33Z" fill="#f26a10"/>
<path d="M101.22 630.57L104.52 633.87L101.22 637.17L97.92 633.87Z" fill="#f26a10"/>
<path d="M119.73 628.01L123.03 631.31L119.73 634.61L116.43 631.31Z" fill="#f26a10"/>
<path d="M138.24 625.07L141.54 628.37L138.24 631.67L134.94 628.37Z" fill="#f26a10"/>
<path d="M156.76 621.99L160.06 625.29L156.76 628.59L153.46 625.29Z" fill="#f26a10"/>
<path d="M175.27 619.05L178.57 622.35L175.27 625.65L171.97 622.35Z" fill="#f26a10"/>
<path d="M193.78 616.49L197.08 619.79L193.78 623.09L190.48 619.79Z" fill="#f26a10"/>
<path d="M212.29 614.57L215.59 617.87L212.29 621.17L208.99 617.87Z" fill="#f26a10"/>
<path d="M230.81 611.5L234.11 614.8L230.81 618.1L227.51 614.8Z" fill="#f26a10"/>
<path d="M249.32 608.55L252.62 611.85L249.32 615.15L246.02 611.85Z" fill="#f26a10"/>
<polyline class="ln" stroke="#fcd40c" points="45.68,651.41 64.19,648.33 82.71,645.39 101.22,643.34 119.73,641.42 138.24,638.35 156.76,636.43 175.27,633.36 193.78,630.93 212.29,628.75 230.81,625.81 249.32,622.86"/>
<path d="M45.68 654.01L48.28 649.03H43.08Z" fill="#fcd40c"/>
<path d="M64.19 650.93L66.79 645.96H61.59Z" fill="#fcd40c"/>
<path d="M82.71 647.99L85.31 643.01H80.11Z" fill="#fcd40c"/>
<path d="M101.22 645.94L103.82 640.97H98.62Z" fill="#fcd40c"/>
<path d="M119.73 644.02L122.33 639.05H117.13Z" fill="#fcd40c"/>
<path d="M138.24 640.95L140.84 635.98H135.64Z" fill="#fcd40c"/>
<path d="M156.76 639.03L159.36 634.06H154.16Z" fill="#fcd40c"/>
<path d="M175.27 635.96L177.87 630.98H172.67Z" fill="#fcd40c"/>
<path d="M193.78 633.53L196.38 628.55H191.18Z" fill="#fcd40c"/>
<path d="M212.29 631.35L214.89 626.38H209.69Z" fill="#fcd40c"/>
<path d="M230.81 628.41L233.41 623.43H228.21Z" fill="#fcd40c"/>
<path d="M249.32 625.46L251.92 620.49H246.72Z" fill="#fcd40c"/>
<rect class="fr" x="35.5" y="504.5" width="224" height="165.5"/>
<path class="tk" d="M45.68 670v2.2"/>
<text class="tl" x="45.68" y="679.71" text-anchor="middle">1</text>
<path class="tk" d="M64.19 670v2.2"/>
<text class="tl" x="64.19" y="679.71" text-anchor="middle">2</text>
<path class="tk" d="M82.71 670v2.2"/>
<text class="tl" x="82.71" y="679.71" text-anchor="middle">3</text>
<path class="tk" d="M101.22 670v2.2"/>
<text class="tl" x="101.22" y="679.71" text-anchor="middle">4</text>
<path class="tk" d="M119.73 670v2.2"/>
<text class="tl" x="119.73" y="679.71" text-anchor="middle">5</text>
<path class="tk" d="M138.24 670v2.2"/>
<text class="tl" x="138.24" y="679.71" text-anchor="middle">6</text>
<path class="tk" d="M156.76 670v2.2"/>
<text class="tl" x="156.76" y="679.71" text-anchor="middle">7</text>
<path class="tk" d="M175.27 670v2.2"/>
<text class="tl" x="175.27" y="679.71" text-anchor="middle">8</text>
<path class="tk" d="M193.78 670v2.2"/>
<text class="tl" x="193.78" y="679.71" text-anchor="middle">9</text>
<path class="tk" d="M212.29 670v2.2"/>
<text class="tl" x="212.29" y="679.71" text-anchor="middle">10</text>
<path class="tk" d="M230.81 670v2.2"/>
<text class="tl" x="230.81" y="679.71" text-anchor="middle">11</text>
<path class="tk" d="M249.32 670v2.2"/>
<text class="tl" x="249.32" y="679.71" text-anchor="middle">12</text>
<text class="al" x="146.9" y="687.35" text-anchor="middle">Horizon</text>
<path class="tk" d="M35.5 654.35h-2.2"/>
<text class="tl" x="31.3" y="656.6" text-anchor="end">0.12</text>
<path class="tk" d="M35.5 628.75h-2.2"/>
<text class="tl" x="31.3" y="631" text-anchor="end">0.14</text>
<path class="tk" d="M35.5 603.15h-2.2"/>
<text class="tl" x="31.3" y="605.4" text-anchor="end">0.16</text>
<path class="tk" d="M35.5 577.55h-2.2"/>
<text class="tl" x="31.3" y="579.8" text-anchor="end">0.18</text>
<path class="tk" d="M35.5 551.95h-2.2"/>
<text class="tl" x="31.3" y="554.2" text-anchor="end">0.20</text>
<path class="tk" d="M35.5 526.35h-2.2"/>
<text class="tl" x="31.3" y="528.6" text-anchor="end">0.22</text>
<text class="al" transform="translate(12.9 587.95) rotate(-90)" text-anchor="middle">MAPE</text>
<rect class="lg" x="38.4" y="507.41" width="73" height="48.55" rx="1"/>
<path class="ln" style="stroke-width:2" stroke="#1a85c4" d="M40.4 512.52H54"/>
<rect x="44.7" y="510.02" width="5" height="5" fill="#1a85c4"/>
<text class="lt" x="58.8" y="514.77">DSTHGCN</text>
<path class="ln" style="stroke-width:2" stroke="#c41a24" d="M40.4 522H54"/>
<circle cx="47.2" cy="522" r="2.4" fill="#c41a24"/>
<text class="lt" x="58.8" y="524.25">Graph WaveNet</text>
<path class="ln" style="stroke-width:2" stroke="#149420" d="M40.4 531.48H54"/>
<path d="M47.2 528.88L49.8 533.86H44.6Z" fill="#149420"/>
<text class="lt" x="58.8" y="533.73">ASTGCN</text>
<path class="ln" style="stroke-width:2" stroke="#f26a10" d="M40.4 540.96H54"/>
<path d="M47.2 537.66L50.5 540.96L47.2 544.26L43.9 540.96Z" fill="#f26a10"/>
<text class="lt" x="58.8" y="543.21">STGODE</text>
<path class="ln" style="stroke-width:2" stroke="#fcd40c" d="M40.4 550.44H54"/>
<path d="M47.2 553.04L49.8 548.06H44.6Z" fill="#fcd40c"/>
<text class="lt" x="58.8" y="552.69">DSTAGNN</text>
<text class="cp c1" x="5.1" y="716">(e)</text>
<text class="cp c4" x="26.2" y="716">MAPE</text>
<text class="cp c3" x="71.2" y="716" style="letter-spacing:0.85px">on PeMSD4</text>
</g>
<g class="chart" id="chart-f">
<polyline class="ln" stroke="#1a85c4" points="333.4,661 351.58,654 369.76,649 387.95,644.6 406.13,641 424.31,637 442.49,633 460.67,629.6 478.85,626.6 497.04,623.6 515.22,620 533.4,616"/>
<rect x="330.9" y="658.5" width="5" height="5" fill="#1a85c4"/>
<rect x="349.08" y="651.5" width="5" height="5" fill="#1a85c4"/>
<rect x="367.26" y="646.5" width="5" height="5" fill="#1a85c4"/>
<rect x="385.45" y="642.1" width="5" height="5" fill="#1a85c4"/>
<rect x="403.63" y="638.5" width="5" height="5" fill="#1a85c4"/>
<rect x="421.81" y="634.5" width="5" height="5" fill="#1a85c4"/>
<rect x="439.99" y="630.5" width="5" height="5" fill="#1a85c4"/>
<rect x="458.17" y="627.1" width="5" height="5" fill="#1a85c4"/>
<rect x="476.35" y="624.1" width="5" height="5" fill="#1a85c4"/>
<rect x="494.54" y="621.1" width="5" height="5" fill="#1a85c4"/>
<rect x="512.72" y="617.5" width="5" height="5" fill="#1a85c4"/>
<rect x="530.9" y="613.5" width="5" height="5" fill="#1a85c4"/>
<polyline class="ln" stroke="#c41a24" points="333.4,657.2 351.58,640 369.76,630.4 387.95,615.6 406.13,604.6 424.31,595 442.49,582.6 460.67,568 478.85,553.6 497.04,537.6 515.22,526.6 533.4,505"/>
<circle cx="333.4" cy="657.2" r="2.4" fill="#c41a24"/>
<circle cx="351.58" cy="640" r="2.4" fill="#c41a24"/>
<circle cx="369.76" cy="630.4" r="2.4" fill="#c41a24"/>
<circle cx="387.95" cy="615.6" r="2.4" fill="#c41a24"/>
<circle cx="406.13" cy="604.6" r="2.4" fill="#c41a24"/>
<circle cx="424.31" cy="595" r="2.4" fill="#c41a24"/>
<circle cx="442.49" cy="582.6" r="2.4" fill="#c41a24"/>
<circle cx="460.67" cy="568" r="2.4" fill="#c41a24"/>
<circle cx="478.85" cy="553.6" r="2.4" fill="#c41a24"/>
<circle cx="497.04" cy="537.6" r="2.4" fill="#c41a24"/>
<circle cx="515.22" cy="526.6" r="2.4" fill="#c41a24"/>
<circle cx="533.4" cy="505" r="2.4" fill="#c41a24"/>
<polyline class="ln" stroke="#149420" points="333.4,644.8 351.58,636.2 369.76,626.4 387.95,619 406.13,612 424.31,609 442.49,603.6 460.67,600.6 478.85,595.6 497.04,590.6 515.22,584.6 533.4,578"/>
<path d="M333.4 642.2L336 647.18H330.8Z" fill="#149420"/>
<path d="M351.58 633.6L354.18 638.58H348.98Z" fill="#149420"/>
<path d="M369.76 623.8L372.36 628.78H367.16Z" fill="#149420"/>
<path d="M387.95 616.4L390.55 621.38H385.35Z" fill="#149420"/>
<path d="M406.13 609.4L408.73 614.38H403.53Z" fill="#149420"/>
<path d="M424.31 606.4L426.91 611.38H421.71Z" fill="#149420"/>
<path d="M442.49 601L445.09 605.98H439.89Z" fill="#149420"/>
<path d="M460.67 598L463.27 602.98H458.07Z" fill="#149420"/>
<path d="M478.85 593L481.45 597.98H476.25Z" fill="#149420"/>
<path d="M497.04 588L499.64 592.98H494.44Z" fill="#149420"/>
<path d="M515.22 582L517.82 586.98H512.62Z" fill="#149420"/>
<path d="M533.4 575.4L536 580.38H530.8Z" fill="#149420"/>
<polyline class="ln" stroke="#f26a10" points="333.4,633.6 351.58,628.6 369.76,624.6 387.95,616.6 406.13,611.6 424.31,605.6 442.49,601 460.67,595 478.85,589.6 497.04,586 515.22,580.6 533.4,576.6"/>
<path d="M333.4 630.3L336.7 633.6L333.4 636.9L330.1 633.6Z" fill="#f26a10"/>
<path d="M351.58 625.3L354.88 628.6L351.58 631.9L348.28 628.6Z" fill="#f26a10"/>
<path d="M369.76 621.3L373.06 624.6L369.76 627.9L366.46 624.6Z" fill="#f26a10"/>
<path d="M387.95 613.3L391.25 616.6L387.95 619.9L384.65 616.6Z" fill="#f26a10"/>
<path d="M406.13 608.3L409.43 611.6L406.13 614.9L402.83 611.6Z" fill="#f26a10"/>
<path d="M424.31 602.3L427.61 605.6L424.31 608.9L421.01 605.6Z" fill="#f26a10"/>
<path d="M442.49 597.7L445.79 601L442.49 604.3L439.19 601Z" fill="#f26a10"/>
<path d="M460.67 591.7L463.97 595L460.67 598.3L457.37 595Z" fill="#f26a10"/>
<path d="M478.85 586.3L482.15 589.6L478.85 592.9L475.55 589.6Z" fill="#f26a10"/>
<path d="M497.04 582.7L500.34 586L497.04 589.3L493.74 586Z" fill="#f26a10"/>
<path d="M515.22 577.3L518.52 580.6L515.22 583.9L511.92 580.6Z" fill="#f26a10"/>
<path d="M533.4 573.3L536.7 576.6L533.4 579.9L530.1 576.6Z" fill="#f26a10"/>
<polyline class="ln" stroke="#fcd40c" points="333.4,642.6 351.58,638.4 369.76,634.8 387.95,626 406.13,623 424.31,620 442.49,615.6 460.67,611.6 478.85,607.6 497.04,603.6 515.22,601 533.4,597"/>
<path d="M333.4 645.2L336 640.23H330.8Z" fill="#fcd40c"/>
<path d="M351.58 641L354.18 636.03H348.98Z" fill="#fcd40c"/>
<path d="M369.76 637.4L372.36 632.43H367.16Z" fill="#fcd40c"/>
<path d="M387.95 628.6L390.55 623.62H385.35Z" fill="#fcd40c"/>
<path d="M406.13 625.6L408.73 620.62H403.53Z" fill="#fcd40c"/>
<path d="M424.31 622.6L426.91 617.62H421.71Z" fill="#fcd40c"/>
<path d="M442.49 618.2L445.09 613.23H439.89Z" fill="#fcd40c"/>
<path d="M460.67 614.2L463.27 609.23H458.07Z" fill="#fcd40c"/>
<path d="M478.85 610.2L481.45 605.23H476.25Z" fill="#fcd40c"/>
<path d="M497.04 606.2L499.64 601.23H494.44Z" fill="#fcd40c"/>
<path d="M515.22 603.6L517.82 598.62H512.62Z" fill="#fcd40c"/>
<path d="M533.4 599.6L536 594.62H530.8Z" fill="#fcd40c"/>
<rect class="fr" x="323.4" y="497.6" width="220" height="170.6"/>
<path class="tk" d="M333.4 668.2v2.2"/>
<text class="tl" x="333.4" y="678.06" text-anchor="middle">1</text>
<path class="tk" d="M351.58 668.2v2.2"/>
<text class="tl" x="351.58" y="678.06" text-anchor="middle">2</text>
<path class="tk" d="M369.76 668.2v2.2"/>
<text class="tl" x="369.76" y="678.06" text-anchor="middle">3</text>
<path class="tk" d="M387.95 668.2v2.2"/>
<text class="tl" x="387.95" y="678.06" text-anchor="middle">4</text>
<path class="tk" d="M406.13 668.2v2.2"/>
<text class="tl" x="406.13" y="678.06" text-anchor="middle">5</text>
<path class="tk" d="M424.31 668.2v2.2"/>
<text class="tl" x="424.31" y="678.06" text-anchor="middle">6</text>
<path class="tk" d="M442.49 668.2v2.2"/>
<text class="tl" x="442.49" y="678.06" text-anchor="middle">7</text>
<path class="tk" d="M460.67 668.2v2.2"/>
<text class="tl" x="460.67" y="678.06" text-anchor="middle">8</text>
<path class="tk" d="M478.85 668.2v2.2"/>
<text class="tl" x="478.85" y="678.06" text-anchor="middle">9</text>
<path class="tk" d="M497.04 668.2v2.2"/>
<text class="tl" x="497.04" y="678.06" text-anchor="middle">10</text>
<path class="tk" d="M515.22 668.2v2.2"/>
<text class="tl" x="515.22" y="678.06" text-anchor="middle">11</text>
<path class="tk" d="M533.4 668.2v2.2"/>
<text class="tl" x="533.4" y="678.06" text-anchor="middle">12</text>
<text class="al" x="432.8" y="686.09" text-anchor="middle">Horizon</text>
<path class="tk" d="M323.4 649.6h-2.2"/>
<text class="tl" x="318.8" y="651.85" text-anchor="end">0.09</text>
<path class="tk" d="M323.4 629.6h-2.2"/>
<text class="tl" x="318.8" y="631.85" text-anchor="end">0.10</text>
<path class="tk" d="M323.4 609.6h-2.2"/>
<text class="tl" x="318.8" y="611.85" text-anchor="end">0.11</text>
<path class="tk" d="M323.4 589.6h-2.2"/>
<text class="tl" x="318.8" y="591.85" text-anchor="end">0.12</text>
<path class="tk" d="M323.4 569.6h-2.2"/>
<text class="tl" x="318.8" y="571.85" text-anchor="end">0.13</text>
<path class="tk" d="M323.4 549.6h-2.2"/>
<text class="tl" x="318.8" y="551.85" text-anchor="end">0.14</text>
<path class="tk" d="M323.4 529.6h-2.2"/>
<text class="tl" x="318.8" y="531.85" text-anchor="end">0.15</text>
<path class="tk" d="M323.4 509.6h-2.2"/>
<text class="tl" x="318.8" y="511.85" text-anchor="end">0.16</text>
<text class="al" transform="translate(300.8 583.6) rotate(-90)" text-anchor="middle">MAPE</text>
<rect class="lg" x="326.25" y="500.6" width="71.7" height="50.04" rx="1"/>
<path class="ln" style="stroke-width:2" stroke="#1a85c4" d="M328.21 505.87H341.57"/>
<rect x="332.39" y="503.37" width="5" height="5" fill="#1a85c4"/>
<text class="lt" x="346.28" y="508.12">DSTHGCN</text>
<path class="ln" style="stroke-width:2" stroke="#c41a24" d="M328.21 515.64H341.57"/>
<circle cx="334.89" cy="515.64" r="2.4" fill="#c41a24"/>
<text class="lt" x="346.28" y="517.89">Graph WaveNet</text>
<path class="ln" style="stroke-width:2" stroke="#149420" d="M328.21 525.41H341.57"/>
<path d="M334.89 522.81L337.49 527.79H332.29Z" fill="#149420"/>
<text class="lt" x="346.28" y="527.66">ASTGCN</text>
<path class="ln" style="stroke-width:2" stroke="#f26a10" d="M328.21 535.18H341.57"/>
<path d="M334.89 531.88L338.19 535.18L334.89 538.48L331.59 535.18Z" fill="#f26a10"/>
<text class="lt" x="346.28" y="537.43">STGODE</text>
<path class="ln" style="stroke-width:2" stroke="#fcd40c" d="M328.21 544.95H341.57"/>
<path d="M334.89 547.55L337.49 542.58H332.29Z" fill="#fcd40c"/>
<text class="lt" x="346.28" y="547.2">DSTAGNN</text>
<text class="cp c1" x="293.1" y="712.5">(f)</text>
<text class="cp c4" x="313" y="712.5">MAPE</text>
<text class="cp c3" x="358" y="712.5" style="letter-spacing:0.85px">on PeMSD8</text>
</g>
</svg>
</body>
</html>
